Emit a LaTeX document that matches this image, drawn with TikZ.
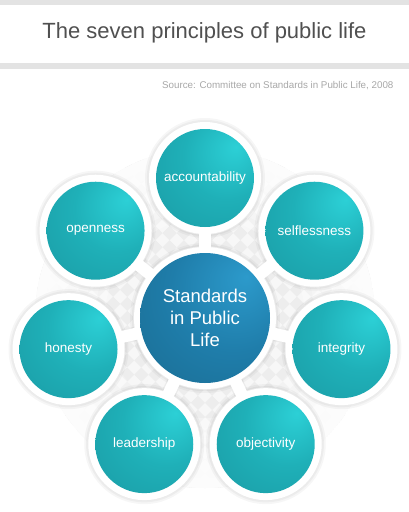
\documentclass[tikz,border=0pt]{standalone}
\usepackage{fontspec}
\setmainfont{Liberation Sans}
\usetikzlibrary{calc}
\definecolor{barG}{HTML}{E3E3E3}
\definecolor{titleG}{HTML}{505050}
\definecolor{srcG}{HTML}{A8A8A8}
\definecolor{tealL}{HTML}{2CD0D6}
\definecolor{tealM}{HTML}{1FB0B8}
\definecolor{tealD}{HTML}{158691}
\definecolor{blueL}{HTML}{2C9ACB}
\definecolor{blueM}{HTML}{1F7DAA}
\definecolor{blueD}{HTML}{145A78}
\definecolor{patA}{HTML}{F7F7F7}
\definecolor{patB}{HTML}{EDEDED}
\pgfdeclareradialshading{tealball}{\pgfpoint{16bp}{16bp}}{color(0bp)=(tealL); color(22bp)=(tealM); color(72bp)=(tealD)}
\pgfdeclareradialshading{blueball}{\pgfpoint{16bp}{16bp}}{color(0bp)=(blueL); color(24bp)=(blueM); color(72bp)=(blueD)}
\tikzset{
  principle/.style={circle, minimum size=98pt, inner sep=0pt, shading=tealball, text=white, font=\fontsize{13.5}{16}\selectfont},
  hub/.style={circle, minimum size=130pt, inner sep=0pt, shading=blueball, text=white, align=center, font=\fontsize{18.5}{22}\selectfont},
  ringwhite/.style={fill=white},
  ringshadow/.style={fill=black, fill opacity=0.035},
  spokewhite/.style={line width=12pt, white},
  spokeshadow/.style={line width=14.5pt, black!8},
}
\begin{document}
\begin{tikzpicture}[x=1pt,y=-1pt]
\useasboundingbox (0,0) rectangle (409,512);
\fill[white] (0,0) rectangle (409,512);
% header bars
\fill[barG] (0,0) rectangle (409,4.5);
\fill[barG] (0,63) rectangle (409,68.5);
\node[text=titleG, font=\fontsize{22}{26}\selectfont] (title) at (204.5,33) {The seven principles of public life};
\node[text=srcG, font=\fontsize{9.8}{12}\selectfont, anchor=east] (source) at (397,86) {Source: Committee on Standards in Public Life, 2008};
% centre and positions
\coordinate (c) at (205,318);
% background diamond pattern
\begin{scope}
  \clip (c) circle (170);
  \fill[patA] (c) circle (170);
  \begin{scope}[shift={(c)}, rotate=45]
    \foreach \i in {-18,...,17}{
      \foreach \j in {-18,...,17}{
        \pgfmathtruncatemacro{\parity}{mod(\i+\j+100,2)}
        \ifnum\parity=0
          \fill[patB] (\i*10,\j*10) rectangle ++(10,10);
        \fi
      }
    }
  \end{scope}
  \foreach \r in {100,110,...,170}{
    \fill[white, fill opacity=0.28, even odd rule] (c) circle (180) (c) circle (\r);
  }
\end{scope}
% coordinates of principles
\foreach \n/\a in {p1/90, p2/38.571, p3/-12.857, p4/-64.286, p5/-115.714, p6/-167.143, p7/141.429}{
  \coordinate (\n) at ($(c)+({140*cos(\a)},{-140*sin(\a)})$);
}
% shadows
\foreach \n in {p1,p2,p3,p4,p5,p6,p7}{
  \draw[spokeshadow] (c) -- (\n);
}
\foreach \n in {p1,p2,p3,p4,p5,p6,p7}{
  \fill[ringshadow] (\n) circle (60);
  \fill[ringshadow] (\n) circle (58.2);
  \fill[black!8] (\n) circle (56.8);
}
\fill[ringshadow] (c) circle (75);
\fill[ringshadow] (c) circle (73.2);
\fill[black!8] (c) circle (71.8);
% white rings and spokes
\foreach \n in {p1,p2,p3,p4,p5,p6,p7}{
  \fill[ringwhite] (\n) circle (56);
}
\fill[ringwhite] (c) circle (71);
\foreach \n in {p1,p2,p3,p4,p5,p6,p7}{
  \draw[spokewhite] (c) -- (\n);
}
% balls
\node[hub] (hubnode) at (c) {Standards\\in Public\\Life};
\node[principle] (accountability) at (p1) {accountability};
\node[principle] (selflessness) at (p2) {selflessness};
\node[principle] (integrity) at (p3) {integrity};
\node[principle] (objectivity) at (p4) {objectivity};
\node[principle] (leadership) at (p5) {leadership};
\node[principle] (honesty) at (p6) {honesty};
\node[principle] (openness) at (p7) {openness};
\end{tikzpicture}
\end{document}
